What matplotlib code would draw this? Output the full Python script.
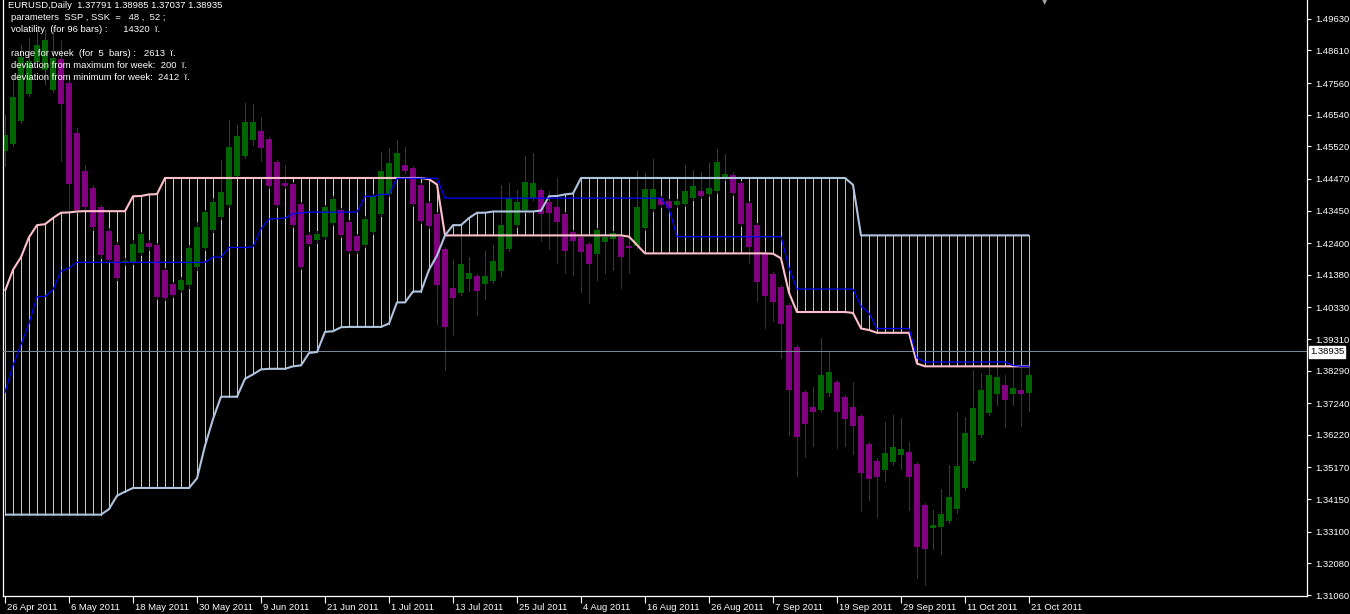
import matplotlib
matplotlib.use("Agg")
import matplotlib.pyplot as plt
import matplotlib.transforms as mtrans
import numpy as np
import pandas as pd

# EURUSD daily, 26 Apr 2011 .. 21 Oct 2011 (one bar per weekday)
dates = pd.bdate_range("2011-04-26", "2011-10-21")

opens = [
    1.4537, 1.4560, 1.4634, 1.4721, 1.4824, 1.4798, 1.4734, 1.4834, 1.4756, 1.4595,
    1.4473, 1.4418, 1.4357, 1.4279, 1.4234, 1.4176, 1.4179, 1.4208, 1.4241, 1.4234,
    1.4153, 1.4108, 1.4089, 1.4105, 1.4163, 1.4224, 1.4282, 1.4324, 1.4363, 1.4456,
    1.4521, 1.4572, 1.4601, 1.4576, 1.4502, 1.4434, 1.4431, 1.4366, 1.4266, 1.4250,
    1.4260, 1.4305, 1.4347, 1.4308, 1.4263, 1.4234, 1.4276, 1.4334, 1.4398, 1.4453,
    1.4492, 1.4482, 1.4427, 1.4369, 1.4334, 1.4221, 1.4095, 1.4079, 1.4124, 1.4134,
    1.4108, 1.4118, 1.4150, 1.4221, 1.4299, 1.4347, 1.4386, 1.4411, 1.4373, 1.4357,
    1.4334, 1.4276, 1.4260, 1.4237, 1.4205, 1.4244, 1.4253, 1.4260, 1.4231, 1.4231,
    1.4289, 1.4350, 1.4386, 1.4376, 1.4363, 1.4366, 1.4386, 1.4408, 1.4398, 1.4408,
    1.4450, 1.4460, 1.4434, 1.4369, 1.4299, 1.4205, 1.4141, 1.4099, 1.4041, 1.3905,
    1.3760, 1.3712, 1.3702, 1.3757, 1.3793, 1.3744, 1.3712, 1.3683, 1.3593, 1.3538,
    1.3509, 1.3535, 1.3557, 1.3567, 1.3528, 1.3396, 1.3322, 1.3325, 1.3345, 1.3383,
    1.3451, 1.3538, 1.3622, 1.3693, 1.3754, 1.3783, 1.3754, 1.3767, 1.3757]
highs = [
    1.4653, 1.4782, 1.4879, 1.4901, 1.4927, 1.4927, 1.4937, 1.4895, 1.4766, 1.4611,
    1.4492, 1.4427, 1.4363, 1.4289, 1.4244, 1.4192, 1.4250, 1.4276, 1.4250, 1.4241,
    1.4160, 1.4115, 1.4131, 1.4234, 1.4308, 1.4347, 1.4386, 1.4508, 1.4637, 1.4621,
    1.4692, 1.4688, 1.4647, 1.4582, 1.4508, 1.4492, 1.4437, 1.4373, 1.4276, 1.4279,
    1.4363, 1.4392, 1.4353, 1.4315, 1.4270, 1.4328, 1.4398, 1.4534, 1.4547, 1.4572,
    1.4550, 1.4489, 1.4434, 1.4376, 1.4340, 1.4228, 1.4189, 1.4263, 1.4195, 1.4141,
    1.4215, 1.4234, 1.4427, 1.4434, 1.4411, 1.4521, 1.4531, 1.4418, 1.4408, 1.4450,
    1.4340, 1.4282, 1.4266, 1.4244, 1.4289, 1.4266, 1.4279, 1.4266, 1.4260, 1.4473,
    1.4466, 1.4511, 1.4392, 1.4382, 1.4382, 1.4492, 1.4476, 1.4469, 1.4498, 1.4543,
    1.4527, 1.4469, 1.4440, 1.4376, 1.4305, 1.4212, 1.4147, 1.4105, 1.4047, 1.3912,
    1.3767, 1.3776, 1.3934, 1.3889, 1.3799, 1.3751, 1.3793, 1.3689, 1.3599, 1.3548,
    1.3664, 1.3686, 1.3677, 1.3599, 1.3535, 1.3403, 1.3380, 1.3448, 1.3525, 1.3696,
    1.3680, 1.3831, 1.3822, 1.3841, 1.3841, 1.3815, 1.3841, 1.3841, 1.3841]
lows = [
    1.4489, 1.4553, 1.4627, 1.4714, 1.4808, 1.4753, 1.4727, 1.4505, 1.4350, 1.4340,
    1.4347, 1.4282, 1.4192, 1.4179, 1.4121, 1.4170, 1.4173, 1.4202, 1.4218, 1.4060,
    1.4057, 1.4066, 1.4083, 1.4095, 1.4153, 1.4218, 1.4276, 1.4318, 1.4357, 1.4450,
    1.4514, 1.4556, 1.4505, 1.4418, 1.4357, 1.4418, 1.4292, 1.4157, 1.4231, 1.4241,
    1.4253, 1.4299, 1.4260, 1.4208, 1.4208, 1.4228, 1.4270, 1.4328, 1.4392, 1.4447,
    1.4466, 1.4360, 1.4305, 1.4289, 1.3979, 1.3831, 1.3944, 1.4073, 1.4086, 1.4008,
    1.4060, 1.4112, 1.4134, 1.4215, 1.4292, 1.4340, 1.4379, 1.4247, 1.4221, 1.4176,
    1.4144, 1.4137, 1.4083, 1.4047, 1.4121, 1.4144, 1.4153, 1.4095, 1.4144, 1.4224,
    1.4282, 1.4344, 1.4357, 1.4347, 1.4357, 1.4360, 1.4379, 1.4386, 1.4392, 1.4402,
    1.4444, 1.4395, 1.4295, 1.4176, 1.4054, 1.3967, 1.3989, 1.3870, 1.3622, 1.3490,
    1.3551, 1.3586, 1.3696, 1.3747, 1.3580, 1.3586, 1.3560, 1.3377, 1.3412, 1.3357,
    1.3473, 1.3525, 1.3512, 1.3380, 1.3161, 1.3138, 1.3254, 1.3238, 1.3338, 1.3370,
    1.3444, 1.3531, 1.3615, 1.3686, 1.3718, 1.3648, 1.3718, 1.3651, 1.3699]
closes = [
    1.4589, 1.4711, 1.4840, 1.4827, 1.4879, 1.4895, 1.4837, 1.4688, 1.4431, 1.4347,
    1.4357, 1.4292, 1.4202, 1.4186, 1.4128, 1.4182, 1.4237, 1.4270, 1.4228, 1.4066,
    1.4063, 1.4073, 1.4121, 1.4224, 1.4292, 1.4340, 1.4373, 1.4405, 1.4550, 1.4585,
    1.4630, 1.4630, 1.4547, 1.4424, 1.4363, 1.4424, 1.4299, 1.4163, 1.4237, 1.4270,
    1.4357, 1.4382, 1.4266, 1.4215, 1.4215, 1.4318, 1.4392, 1.4473, 1.4498, 1.4531,
    1.4473, 1.4366, 1.4311, 1.4295, 1.4105, 1.3970, 1.4063, 1.4173, 1.4144, 1.4086,
    1.4134, 1.4182, 1.4299, 1.4386, 1.4373, 1.4437, 1.4434, 1.4334, 1.4337, 1.4308,
    1.4215, 1.4247, 1.4212, 1.4173, 1.4282, 1.4260, 1.4273, 1.4195, 1.4224, 1.4357,
    1.4415, 1.4415, 1.4363, 1.4353, 1.4376, 1.4408, 1.4424, 1.4392, 1.4418, 1.4502,
    1.4463, 1.4402, 1.4302, 1.4228, 1.4115, 1.4070, 1.4050, 1.3979, 1.3767, 1.3615,
    1.3657, 1.3696, 1.3815, 1.3825, 1.3696, 1.3673, 1.3651, 1.3499, 1.3480, 1.3486,
    1.3564, 1.3583, 1.3577, 1.3486, 1.3261, 1.3254, 1.3332, 1.3367, 1.3422, 1.3522,
    1.3628, 1.3709, 1.3767, 1.3815, 1.3809, 1.3735, 1.3773, 1.3754, 1.3815]

# cloud borders (pink / light steel blue) and the blue base line
span_pink = [
    1.4086, 1.4154, 1.4195, 1.4259, 1.4298, 1.4301, 1.4321, 1.4338, 1.4339, 1.4342,
    1.4343, 1.4343, 1.4343, 1.4343, 1.4343, 1.4343, 1.4391, 1.4392, 1.4397, 1.4398,
    1.4450, 1.4450, 1.4450, 1.4450, 1.4450, 1.4450, 1.4450, 1.4450, 1.4450, 1.4450,
    1.4450, 1.4450, 1.4450, 1.4450, 1.4450, 1.4450, 1.4450, 1.4450, 1.4450, 1.4450,
    1.4450, 1.4450, 1.4450, 1.4450, 1.4450, 1.4450, 1.4450, 1.4450, 1.4450, 1.4450,
    1.4450, 1.4450, 1.4450, 1.4446, 1.4429, 1.4265, 1.4265, 1.4265, 1.4265, 1.4265,
    1.4265, 1.4265, 1.4265, 1.4265, 1.4265, 1.4265, 1.4265, 1.4265, 1.4265, 1.4265,
    1.4265, 1.4265, 1.4265, 1.4265, 1.4265, 1.4265, 1.4265, 1.4265, 1.4261, 1.4234,
    1.4207, 1.4207, 1.4207, 1.4207, 1.4207, 1.4207, 1.4207, 1.4207, 1.4207, 1.4207,
    1.4207, 1.4207, 1.4207, 1.4207, 1.4207, 1.4207, 1.4206, 1.4191, 1.4080, 1.4018,
    1.4018, 1.4018, 1.4018, 1.4018, 1.4018, 1.4018, 1.4015, 1.3965, 1.3960, 1.3951,
    1.3951, 1.3951, 1.3951, 1.3951, 1.3852, 1.3843, 1.3843, 1.3843, 1.3843, 1.3843,
    1.3843, 1.3843, 1.3843, 1.3843, 1.3843, 1.3843, 1.3843, 1.3843, 1.3843]
span_steel = [
    1.3365, 1.3365, 1.3365, 1.3365, 1.3365, 1.3365, 1.3365, 1.3365, 1.3365, 1.3365,
    1.3365, 1.3365, 1.3365, 1.3383, 1.3426, 1.3439, 1.3451, 1.3451, 1.3451, 1.3451,
    1.3451, 1.3451, 1.3451, 1.3451, 1.3482, 1.3587, 1.3673, 1.3745, 1.3745, 1.3745,
    1.3803, 1.3817, 1.3833, 1.3835, 1.3835, 1.3835, 1.3843, 1.3846, 1.3886, 1.3889,
    1.3954, 1.3956, 1.3969, 1.3970, 1.3970, 1.3970, 1.3970, 1.3970, 1.3981, 1.4049,
    1.4049, 1.4084, 1.4084, 1.4154, 1.4200, 1.4265, 1.4298, 1.4298, 1.4321, 1.4338,
    1.4338, 1.4342, 1.4342, 1.4342, 1.4342, 1.4342, 1.4342, 1.4345, 1.4391, 1.4392,
    1.4397, 1.4400, 1.4450, 1.4450, 1.4450, 1.4450, 1.4450, 1.4450, 1.4450, 1.4450,
    1.4450, 1.4450, 1.4450, 1.4450, 1.4450, 1.4450, 1.4450, 1.4450, 1.4450, 1.4450,
    1.4450, 1.4450, 1.4450, 1.4450, 1.4450, 1.4450, 1.4450, 1.4450, 1.4450, 1.4450,
    1.4450, 1.4450, 1.4450, 1.4450, 1.4450, 1.4450, 1.4428, 1.4265, 1.4265, 1.4265,
    1.4265, 1.4265, 1.4265, 1.4265, 1.4265, 1.4265, 1.4265, 1.4265, 1.4265, 1.4265,
    1.4265, 1.4265, 1.4265, 1.4265, 1.4265, 1.4265, 1.4265, 1.4265, 1.4265]
base_line = [
    1.3759, 1.3846, 1.3914, 1.3981, 1.4068, 1.4068, 1.4090, 1.4150, 1.4160, 1.4178,
    1.4178, 1.4178, 1.4178, 1.4178, 1.4178, 1.4178, 1.4178, 1.4178, 1.4178, 1.4178,
    1.4178, 1.4178, 1.4178, 1.4178, 1.4178, 1.4178, 1.4195, 1.4195, 1.4226, 1.4226,
    1.4226, 1.4228, 1.4286, 1.4318, 1.4319, 1.4321, 1.4335, 1.4337, 1.4340, 1.4340,
    1.4340, 1.4340, 1.4340, 1.4340, 1.4340, 1.4391, 1.4391, 1.4397, 1.4397, 1.4449,
    1.4449, 1.4449, 1.4449, 1.4449, 1.4449, 1.4385, 1.4385, 1.4385, 1.4385, 1.4385,
    1.4385, 1.4385, 1.4385, 1.4385, 1.4385, 1.4385, 1.4385, 1.4385, 1.4385, 1.4385,
    1.4385, 1.4385, 1.4385, 1.4385, 1.4385, 1.4385, 1.4385, 1.4385, 1.4385, 1.4385,
    1.4385, 1.4385, 1.4385, 1.4351, 1.4261, 1.4261, 1.4261, 1.4261, 1.4261, 1.4261,
    1.4261, 1.4261, 1.4261, 1.4261, 1.4261, 1.4261, 1.4261, 1.4261, 1.4160, 1.4092,
    1.4092, 1.4092, 1.4092, 1.4092, 1.4092, 1.4092, 1.4092, 1.4037, 1.4015, 1.3965,
    1.3965, 1.3965, 1.3965, 1.3965, 1.3870, 1.3857, 1.3857, 1.3857, 1.3857, 1.3857,
    1.3857, 1.3857, 1.3857, 1.3857, 1.3857, 1.3857, 1.3846, 1.3843, 1.3843]

bid = 1.38935
price_ticks = [1.49630, 1.48610, 1.47560, 1.46540, 1.45520, 1.44470, 1.43450,
               1.42400, 1.41380, 1.40330, 1.39310, 1.38290, 1.37240, 1.36220,
               1.35170, 1.34150, 1.33100, 1.32080, 1.31060]
header = "EURUSD,Daily  1.37791 1.38985 1.37037 1.38935"
info_lines = ["parameters  SSP , SSK  =   48 ,  52 ;",
              "volatility  (for 96 bars) :      14320  \u00ef.",
              "",
              "range for week  (for  5  bars) :   2613  \u00ef.",
              "deviation from maximum for week:  200  \u00ef.",
              "deviation from minimum for week:  2412  \u00ef."]

# colours of this MT4 template
BULL = "#006400"
BEAR = "#800080"
PINK = "#ffc0cb"
PINK_HATCH = "#ffb0c0"
STEEL = "#b0c4de"
FONT = ["Liberation Sans", "DejaVu Sans"]
FS = 6.8
PX = 0.5   # line width that draws as a single pixel without antialiasing

W, H = 1350, 614
fig = plt.figure(figsize=(W / 100, H / 100), dpi=100, facecolor="black")
ax = fig.add_axes([3 / W, 18 / H, 1304 / W, 596 / H])
ax.set_facecolor("black")

x = np.arange(len(opens))
o, h, l, c = map(np.array, (opens, highs, lows, closes))
pk, st = np.array(span_pink), np.array(span_steel)

# cloud: a 1px vertical line at every bar between the two borders
hatch_col = np.where(pk >= st, PINK_HATCH, STEEL)
ax.vlines(x, np.minimum(pk, st), np.maximum(pk, st), colors=hatch_col,
          lw=PX, antialiased=False, zorder=1)
ax.plot(x, pk, color=PINK, lw=1.5, zorder=4, solid_capstyle="butt")
ax.plot(x, st, color=STEEL, lw=1.5, zorder=4, solid_capstyle="butt")
ax.plot(x, base_line, color="#0000ff", lw=0.9, zorder=5)

# candles
col = np.where(c >= o, BULL, BEAR)
ax.vlines(x, l, h, colors=col, lw=PX, antialiased=False, zorder=2)
body = np.maximum(np.abs(c - o), 0.0003)
ax.bar(x, body, bottom=np.minimum(o, c), width=0.68, color=col, lw=0,
       antialiased=False, zorder=2)

ax.axhline(bid, color="#778899", lw=PX, antialiased=False, zorder=3)

ax.set_xlim(-0.25, 162.75)
ax.set_ylim(1.31028, 1.50236)

for s in ("left", "bottom", "right"):
    ax.spines[s].set_color("white")
    ax.spines[s].set_linewidth(0.9)
ax.spines["top"].set_visible(False)

# price scale on the right
ax.yaxis.tick_right()
ax.set_yticks(price_ticks)
ax.set_yticklabels([f"{v:.5f}" for v in price_ticks], fontsize=FS, family=FONT, color="white")
ax.tick_params(axis="y", length=3, width=0.8, color="white", pad=3)

# date scale: a label every 8 bars, text starting right after the tick
tick_idx = x[::8]
ax.set_xticks(tick_idx)
ax.set_xticklabels([])
ax.tick_params(axis="x", length=5, width=0.8, color="white")
off = mtrans.offset_copy(ax.get_xaxis_transform(), fig=fig, x=2, y=-11, units="dots")
for i in tick_idx:
    d = dates[i]
    ax.text(i, 0, f"{d.day} {d.strftime('%b %Y')}", transform=off, ha="left", va="center",
            fontsize=FS, family=FONT, color="white", clip_on=False)

# current bid label
fig.text(1310 / W, 1 - 352 / H, f"{bid:.5f}", fontsize=FS, family=FONT, color="black",
         ha="left", va="center",
         bbox=dict(boxstyle="square,pad=0.12", fc="white", ec="white"))

# header and indicator comments
fig.text(8 / W, 1 - 6 / H, header, fontsize=FS, family=FONT, color="white", va="center", zorder=10)
for k, line in enumerate(info_lines):
    fig.text(11 / W, 1 - (17 + 12.1 * k) / H, line, fontsize=FS, family=FONT,
             color="white", va="center", zorder=10)

# chart shift marker
fig.text(1045 / W, 1 - 2 / H, "\u25bc", fontsize=5, color="#a0a0a0", ha="center", va="center")

fig.savefig("out.png", dpi=100, facecolor="black")
